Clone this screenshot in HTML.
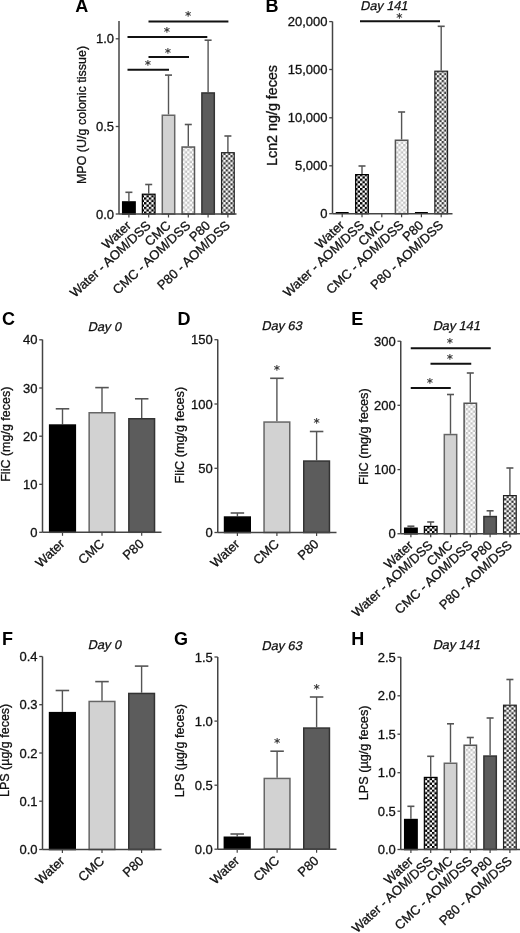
<!DOCTYPE html>
<html><head><meta charset="utf-8"><title>Figure</title>
<style>
html,body{margin:0;padding:0;background:#fff;}
body{width:520px;height:933px;overflow:hidden;}
svg{display:block;}
text{font-family:"Liberation Sans", Arial, Helvetica, sans-serif;fill:#111;}
.tk,.xl,.yl,.tt{stroke:#111;stroke-width:0.3px;}
.tk{font-size:13px;}
.xl{font-size:13px;}
.yl{font-size:12.5px;}
.pl{font-size:18px;font-weight:bold;fill:#000;}
.tt{font-size:12.7px;}
.st{font-family:"DejaVu Sans",sans-serif;font-weight:bold;font-size:12px;fill:#3a3a3a;}
</style></head>
<body>
<svg width="520" height="933" viewBox="0 0 520 933">
<defs>
<pattern id="pd" patternUnits="userSpaceOnUse" width="4.8" height="4.7">
<rect width="4.8" height="4.7" fill="#fff"/>
<rect x="0" y="0" width="2.4" height="2.35" fill="#000"/>
<rect x="2.4" y="2.35" width="2.4" height="2.35" fill="#000"/>
</pattern>
<pattern id="pg" patternUnits="userSpaceOnUse" width="4.8" height="4.7">
<rect width="4.8" height="4.7" fill="#fff"/>
<rect x="0.05" y="0.05" width="2.3" height="2.25" fill="#333"/>
<rect x="2.45" y="2.4" width="2.3" height="2.25" fill="#333"/>
</pattern>
<pattern id="pl" patternUnits="userSpaceOnUse" width="4.8" height="4.8">
<rect width="4.8" height="4.8" fill="#fff"/>
<rect width="2.4" height="2.4" fill="#c4c4c4"/>
<rect x="2.4" y="2.4" width="2.4" height="2.4" fill="#c4c4c4"/>
</pattern>
</defs>
<rect width="520" height="933" fill="#fff"/>
<line x1="128.9" y1="201.2" x2="128.9" y2="192.3" stroke="#555" stroke-width="1.4"/>
<line x1="125.4" y1="192.3" x2="132.4" y2="192.3" stroke="#555" stroke-width="1.6"/>
<rect x="122.7" y="201.95" width="12.4" height="12.050000000000011" fill="#000" stroke="#000" stroke-width="1.5"/>
<line x1="148.7" y1="193.6" x2="148.7" y2="184.5" stroke="#555" stroke-width="1.4"/>
<line x1="145.2" y1="184.5" x2="152.2" y2="184.5" stroke="#555" stroke-width="1.6"/>
<rect x="142.35" y="194.2" width="12.700000000000001" height="19.800000000000004" fill="url(#pd)" stroke="#000" stroke-width="1.2"/>
<line x1="168.5" y1="114.5" x2="168.5" y2="75.1" stroke="#555" stroke-width="1.4"/>
<line x1="165.0" y1="75.1" x2="172.0" y2="75.1" stroke="#555" stroke-width="1.6"/>
<rect x="162.3" y="115.25" width="12.4" height="98.75" fill="#d2d2d2" stroke="#666" stroke-width="1.5"/>
<line x1="188.3" y1="146.3" x2="188.3" y2="124.5" stroke="#555" stroke-width="1.4"/>
<line x1="184.8" y1="124.5" x2="191.8" y2="124.5" stroke="#555" stroke-width="1.6"/>
<rect x="182.10000000000002" y="147.05" width="12.4" height="66.94999999999999" fill="url(#pl)" stroke="#555" stroke-width="1.5"/>
<line x1="208.1" y1="92.2" x2="208.1" y2="40.2" stroke="#555" stroke-width="1.4"/>
<line x1="204.6" y1="40.2" x2="211.6" y2="40.2" stroke="#555" stroke-width="1.6"/>
<rect x="201.9" y="92.95" width="12.4" height="121.05" fill="#5c5c5c" stroke="#333" stroke-width="1.5"/>
<line x1="227.9" y1="152.1" x2="227.9" y2="136.0" stroke="#555" stroke-width="1.4"/>
<line x1="224.4" y1="136.0" x2="231.4" y2="136.0" stroke="#555" stroke-width="1.6"/>
<rect x="221.55" y="152.7" width="12.700000000000001" height="61.300000000000004" fill="url(#pg)" stroke="#222" stroke-width="1.2"/>
<line x1="119" y1="21" x2="119" y2="214" stroke="#444" stroke-width="1.5"/>
<line x1="119" y1="214" x2="236.5" y2="214" stroke="#444" stroke-width="1.5"/>
<line x1="115.7" y1="214" x2="119" y2="214" stroke="#444" stroke-width="1.3"/>
<text x="114" y="218.6" text-anchor="end" class="tk">0.0</text>
<line x1="115.7" y1="126.5" x2="119" y2="126.5" stroke="#444" stroke-width="1.3"/>
<text x="114" y="131.1" text-anchor="end" class="tk">0.5</text>
<line x1="115.7" y1="38.8" x2="119" y2="38.8" stroke="#444" stroke-width="1.3"/>
<text x="114" y="43.4" text-anchor="end" class="tk">1.0</text>
<line x1="128.9" y1="214" x2="128.9" y2="217.5" stroke="#444" stroke-width="1.2"/>
<text transform="translate(131.9,226.5) rotate(-43)" text-anchor="end" class="xl">Water</text>
<line x1="148.7" y1="214" x2="148.7" y2="217.5" stroke="#444" stroke-width="1.2"/>
<text transform="translate(151.7,226.5) rotate(-43)" text-anchor="end" class="xl">Water - AOM/DSS</text>
<line x1="168.5" y1="214" x2="168.5" y2="217.5" stroke="#444" stroke-width="1.2"/>
<text transform="translate(171.5,226.5) rotate(-43)" text-anchor="end" class="xl">CMC</text>
<line x1="188.3" y1="214" x2="188.3" y2="217.5" stroke="#444" stroke-width="1.2"/>
<text transform="translate(191.3,226.5) rotate(-43)" text-anchor="end" class="xl">CMC - AOM/DSS</text>
<line x1="208.1" y1="214" x2="208.1" y2="217.5" stroke="#444" stroke-width="1.2"/>
<text transform="translate(211.1,226.5) rotate(-43)" text-anchor="end" class="xl">P80</text>
<line x1="227.9" y1="214" x2="227.9" y2="217.5" stroke="#444" stroke-width="1.2"/>
<text transform="translate(230.9,226.5) rotate(-43)" text-anchor="end" class="xl">P80 - AOM/DSS</text>
<text transform="translate(86.1,115) rotate(-90)" text-anchor="middle" class="yl" style="font-size:12.5px">MPO (U/g colonic tissue)</text>
<text x="75.3" y="12" class="pl">A</text>
<line x1="148.5" y1="21.4" x2="228.4" y2="21.4" stroke="#111" stroke-width="2"/>
<text x="188.2" y="20" text-anchor="middle" class="st">*</text>
<line x1="127.5" y1="37" x2="207.3" y2="37" stroke="#111" stroke-width="2"/>
<text x="166.9" y="35.6" text-anchor="middle" class="st">*</text>
<line x1="148.5" y1="57.1" x2="189" y2="57.1" stroke="#111" stroke-width="2"/>
<text x="168" y="56.8" text-anchor="middle" class="st">*</text>
<line x1="127.5" y1="69.8" x2="169" y2="69.8" stroke="#111" stroke-width="2"/>
<text x="148" y="68.8" text-anchor="middle" class="st">*</text>
<rect x="335.75" y="212.0" width="12.9" height="1.3" fill="#000"/>
<line x1="362.0" y1="174.0" x2="362.0" y2="166.0" stroke="#555" stroke-width="1.4"/>
<line x1="358.5" y1="166.0" x2="365.5" y2="166.0" stroke="#555" stroke-width="1.6"/>
<rect x="355.65000000000003" y="174.6" width="12.700000000000001" height="39.09999999999999" fill="url(#pd)" stroke="#000" stroke-width="1.2"/>
<line x1="401.6" y1="139.5" x2="401.6" y2="112.0" stroke="#555" stroke-width="1.4"/>
<line x1="398.1" y1="112.0" x2="405.1" y2="112.0" stroke="#555" stroke-width="1.6"/>
<rect x="395.40000000000003" y="140.25" width="12.4" height="73.44999999999999" fill="url(#pl)" stroke="#555" stroke-width="1.5"/>
<rect x="414.95" y="212.0" width="12.9" height="1.3" fill="#000"/>
<line x1="441.2" y1="70.6" x2="441.2" y2="26.3" stroke="#555" stroke-width="1.4"/>
<line x1="437.7" y1="26.3" x2="444.7" y2="26.3" stroke="#555" stroke-width="1.6"/>
<rect x="434.85" y="71.19999999999999" width="12.700000000000001" height="142.5" fill="url(#pg)" stroke="#222" stroke-width="1.2"/>
<line x1="332.5" y1="21.5" x2="332.5" y2="213.7" stroke="#444" stroke-width="1.5"/>
<line x1="332.5" y1="213.7" x2="452.5" y2="213.7" stroke="#444" stroke-width="1.5"/>
<line x1="329.2" y1="213.7" x2="332.5" y2="213.7" stroke="#444" stroke-width="1.3"/>
<text x="327.5" y="218.29999999999998" text-anchor="end" class="tk">0</text>
<line x1="329.2" y1="165.8" x2="332.5" y2="165.8" stroke="#444" stroke-width="1.3"/>
<text x="327.5" y="170.4" text-anchor="end" class="tk">5,000</text>
<line x1="329.2" y1="117.8" x2="332.5" y2="117.8" stroke="#444" stroke-width="1.3"/>
<text x="327.5" y="122.39999999999999" text-anchor="end" class="tk">10,000</text>
<line x1="329.2" y1="69.5" x2="332.5" y2="69.5" stroke="#444" stroke-width="1.3"/>
<text x="327.5" y="74.1" text-anchor="end" class="tk">15,000</text>
<line x1="329.2" y1="21.6" x2="332.5" y2="21.6" stroke="#444" stroke-width="1.3"/>
<text x="327.5" y="26.200000000000003" text-anchor="end" class="tk">20,000</text>
<line x1="342.2" y1="213.7" x2="342.2" y2="217.2" stroke="#444" stroke-width="1.2"/>
<text transform="translate(345.2,226.2) rotate(-43)" text-anchor="end" class="xl">Water</text>
<line x1="362.0" y1="213.7" x2="362.0" y2="217.2" stroke="#444" stroke-width="1.2"/>
<text transform="translate(365.0,226.2) rotate(-43)" text-anchor="end" class="xl">Water - AOM/DSS</text>
<line x1="381.8" y1="213.7" x2="381.8" y2="217.2" stroke="#444" stroke-width="1.2"/>
<text transform="translate(384.8,226.2) rotate(-43)" text-anchor="end" class="xl">CMC</text>
<line x1="401.6" y1="213.7" x2="401.6" y2="217.2" stroke="#444" stroke-width="1.2"/>
<text transform="translate(404.6,226.2) rotate(-43)" text-anchor="end" class="xl">CMC - AOM/DSS</text>
<line x1="421.4" y1="213.7" x2="421.4" y2="217.2" stroke="#444" stroke-width="1.2"/>
<text transform="translate(424.4,226.2) rotate(-43)" text-anchor="end" class="xl">P80</text>
<line x1="441.2" y1="213.7" x2="441.2" y2="217.2" stroke="#444" stroke-width="1.2"/>
<text transform="translate(444.2,226.2) rotate(-43)" text-anchor="end" class="xl">P80 - AOM/DSS</text>
<text transform="translate(276.9,115.5) rotate(-90)" text-anchor="middle" class="yl" style="font-size:14.3px">Lcn2 ng/g feces</text>
<text x="265.5" y="12" class="pl">B</text>
<text transform="translate(360.3,9.5) skewX(-12)" class="tt">Day 141</text>
<line x1="360" y1="21.3" x2="440" y2="21.3" stroke="#111" stroke-width="2"/>
<text x="399.5" y="22" text-anchor="middle" class="st">*</text>
<line x1="62.5" y1="424.3" x2="62.5" y2="408.8" stroke="#555" stroke-width="1.4"/>
<line x1="55.75" y1="408.8" x2="69.25" y2="408.8" stroke="#555" stroke-width="1.6"/>
<rect x="49.65" y="425.05" width="25.7" height="107.24999999999994" fill="#000" stroke="#000" stroke-width="1.5"/>
<line x1="102.0" y1="412.0" x2="102.0" y2="387.6" stroke="#555" stroke-width="1.4"/>
<line x1="95.25" y1="387.6" x2="108.75" y2="387.6" stroke="#555" stroke-width="1.6"/>
<rect x="89.15" y="412.75" width="25.7" height="119.54999999999995" fill="#d2d2d2" stroke="#666" stroke-width="1.5"/>
<line x1="141.7" y1="418.0" x2="141.7" y2="398.8" stroke="#555" stroke-width="1.4"/>
<line x1="134.95" y1="398.8" x2="148.45" y2="398.8" stroke="#555" stroke-width="1.6"/>
<rect x="128.85" y="418.75" width="25.7" height="113.54999999999995" fill="#5c5c5c" stroke="#333" stroke-width="1.5"/>
<line x1="42.5" y1="339.6" x2="42.5" y2="532.3" stroke="#444" stroke-width="1.5"/>
<line x1="42.5" y1="532.3" x2="161.5" y2="532.3" stroke="#444" stroke-width="1.5"/>
<line x1="39.2" y1="532.3" x2="42.5" y2="532.3" stroke="#444" stroke-width="1.3"/>
<text x="37.5" y="536.9" text-anchor="end" class="tk">0</text>
<line x1="39.2" y1="484.3" x2="42.5" y2="484.3" stroke="#444" stroke-width="1.3"/>
<text x="37.5" y="488.90000000000003" text-anchor="end" class="tk">10</text>
<line x1="39.2" y1="436.2" x2="42.5" y2="436.2" stroke="#444" stroke-width="1.3"/>
<text x="37.5" y="440.8" text-anchor="end" class="tk">20</text>
<line x1="39.2" y1="388.0" x2="42.5" y2="388.0" stroke="#444" stroke-width="1.3"/>
<text x="37.5" y="392.6" text-anchor="end" class="tk">30</text>
<line x1="39.2" y1="339.8" x2="42.5" y2="339.8" stroke="#444" stroke-width="1.3"/>
<text x="37.5" y="344.40000000000003" text-anchor="end" class="tk">40</text>
<line x1="62.5" y1="532.3" x2="62.5" y2="535.8" stroke="#444" stroke-width="1.2"/>
<text transform="translate(65.5,544.8) rotate(-43)" text-anchor="end" class="xl">Water</text>
<line x1="102.0" y1="532.3" x2="102.0" y2="535.8" stroke="#444" stroke-width="1.2"/>
<text transform="translate(105.0,544.8) rotate(-43)" text-anchor="end" class="xl">CMC</text>
<line x1="141.7" y1="532.3" x2="141.7" y2="535.8" stroke="#444" stroke-width="1.2"/>
<text transform="translate(144.7,544.8) rotate(-43)" text-anchor="end" class="xl">P80</text>
<text transform="translate(10.1,434.2) rotate(-90)" text-anchor="middle" class="yl" style="font-size:12.5px">FliC (mg/g feces)</text>
<text x="2.1" y="325" class="pl">C</text>
<text transform="translate(87.8,330.5) skewX(-12)" class="tt">Day 0</text>
<line x1="237.4" y1="516.3" x2="237.4" y2="513.0" stroke="#555" stroke-width="1.4"/>
<line x1="230.65" y1="513.0" x2="244.15" y2="513.0" stroke="#555" stroke-width="1.6"/>
<rect x="224.55" y="517.05" width="25.7" height="15.450000000000045" fill="#000" stroke="#000" stroke-width="1.5"/>
<line x1="276.9" y1="421.3" x2="276.9" y2="378.3" stroke="#555" stroke-width="1.4"/>
<line x1="270.15" y1="378.3" x2="283.65" y2="378.3" stroke="#555" stroke-width="1.6"/>
<rect x="264.04999999999995" y="422.05" width="25.7" height="110.44999999999999" fill="#d2d2d2" stroke="#666" stroke-width="1.5"/>
<line x1="316.6" y1="460.3" x2="316.6" y2="431.5" stroke="#555" stroke-width="1.4"/>
<line x1="309.85" y1="431.5" x2="323.35" y2="431.5" stroke="#555" stroke-width="1.6"/>
<rect x="303.75" y="461.05" width="25.7" height="71.44999999999999" fill="#5c5c5c" stroke="#333" stroke-width="1.5"/>
<line x1="217.75" y1="339.5" x2="217.75" y2="532.5" stroke="#444" stroke-width="1.5"/>
<line x1="217.75" y1="532.5" x2="336.5" y2="532.5" stroke="#444" stroke-width="1.5"/>
<line x1="214.45" y1="532.5" x2="217.75" y2="532.5" stroke="#444" stroke-width="1.3"/>
<text x="212.75" y="537.1" text-anchor="end" class="tk">0</text>
<line x1="214.45" y1="468.3" x2="217.75" y2="468.3" stroke="#444" stroke-width="1.3"/>
<text x="212.75" y="472.90000000000003" text-anchor="end" class="tk">50</text>
<line x1="214.45" y1="404.0" x2="217.75" y2="404.0" stroke="#444" stroke-width="1.3"/>
<text x="212.75" y="408.6" text-anchor="end" class="tk">100</text>
<line x1="214.45" y1="339.7" x2="217.75" y2="339.7" stroke="#444" stroke-width="1.3"/>
<text x="212.75" y="344.3" text-anchor="end" class="tk">150</text>
<line x1="237.4" y1="532.5" x2="237.4" y2="536.0" stroke="#444" stroke-width="1.2"/>
<text transform="translate(240.4,545.0) rotate(-43)" text-anchor="end" class="xl">Water</text>
<line x1="276.9" y1="532.5" x2="276.9" y2="536.0" stroke="#444" stroke-width="1.2"/>
<text transform="translate(279.9,545.0) rotate(-43)" text-anchor="end" class="xl">CMC</text>
<line x1="316.6" y1="532.5" x2="316.6" y2="536.0" stroke="#444" stroke-width="1.2"/>
<text transform="translate(319.6,545.0) rotate(-43)" text-anchor="end" class="xl">P80</text>
<text transform="translate(184.0,435.1) rotate(-90)" text-anchor="middle" class="yl" style="font-size:12.7px">FliC (mg/g feces)</text>
<text x="177.5" y="324.9" class="pl">D</text>
<text transform="translate(261.5,330) skewX(-12)" class="tt">Day 63</text>
<text x="276.9" y="374" text-anchor="middle" class="st">*</text>
<text x="316.6" y="427.3" text-anchor="middle" class="st">*</text>
<line x1="410.9" y1="527.5" x2="410.9" y2="526.2" stroke="#555" stroke-width="1.4"/>
<line x1="407.4" y1="526.2" x2="414.4" y2="526.2" stroke="#555" stroke-width="1.6"/>
<rect x="404.7" y="528.25" width="12.4" height="5.5" fill="#000" stroke="#000" stroke-width="1.5"/>
<line x1="430.7" y1="525.8" x2="430.7" y2="522.0" stroke="#555" stroke-width="1.4"/>
<line x1="427.2" y1="522.0" x2="434.2" y2="522.0" stroke="#555" stroke-width="1.6"/>
<rect x="424.35" y="526.4" width="12.700000000000001" height="7.350000000000046" fill="url(#pd)" stroke="#000" stroke-width="1.2"/>
<line x1="450.5" y1="433.8" x2="450.5" y2="394.5" stroke="#555" stroke-width="1.4"/>
<line x1="447.0" y1="394.5" x2="454.0" y2="394.5" stroke="#555" stroke-width="1.6"/>
<rect x="444.3" y="434.55" width="12.4" height="99.19999999999999" fill="#d2d2d2" stroke="#666" stroke-width="1.5"/>
<line x1="470.3" y1="402.5" x2="470.3" y2="373.0" stroke="#555" stroke-width="1.4"/>
<line x1="466.8" y1="373.0" x2="473.8" y2="373.0" stroke="#555" stroke-width="1.6"/>
<rect x="464.1" y="403.25" width="12.4" height="130.5" fill="url(#pl)" stroke="#555" stroke-width="1.5"/>
<line x1="490.1" y1="515.8" x2="490.1" y2="510.8" stroke="#555" stroke-width="1.4"/>
<line x1="486.6" y1="510.8" x2="493.6" y2="510.8" stroke="#555" stroke-width="1.6"/>
<rect x="483.90000000000003" y="516.55" width="12.4" height="17.200000000000045" fill="#5c5c5c" stroke="#333" stroke-width="1.5"/>
<line x1="509.9" y1="495.0" x2="509.9" y2="468.0" stroke="#555" stroke-width="1.4"/>
<line x1="506.4" y1="468.0" x2="513.4" y2="468.0" stroke="#555" stroke-width="1.6"/>
<rect x="503.55" y="495.6" width="12.700000000000001" height="38.15" fill="url(#pg)" stroke="#222" stroke-width="1.2"/>
<line x1="400.75" y1="341" x2="400.75" y2="533.75" stroke="#444" stroke-width="1.5"/>
<line x1="400.75" y1="533.75" x2="521" y2="533.75" stroke="#444" stroke-width="1.5"/>
<line x1="397.45" y1="533.75" x2="400.75" y2="533.75" stroke="#444" stroke-width="1.3"/>
<text x="395.75" y="538.35" text-anchor="end" class="tk">0</text>
<line x1="397.45" y1="469.6" x2="400.75" y2="469.6" stroke="#444" stroke-width="1.3"/>
<text x="395.75" y="474.20000000000005" text-anchor="end" class="tk">100</text>
<line x1="397.45" y1="405.3" x2="400.75" y2="405.3" stroke="#444" stroke-width="1.3"/>
<text x="395.75" y="409.90000000000003" text-anchor="end" class="tk">200</text>
<line x1="397.45" y1="341.2" x2="400.75" y2="341.2" stroke="#444" stroke-width="1.3"/>
<text x="395.75" y="345.8" text-anchor="end" class="tk">300</text>
<line x1="410.9" y1="533.75" x2="410.9" y2="537.25" stroke="#444" stroke-width="1.2"/>
<text transform="translate(413.9,546.25) rotate(-43)" text-anchor="end" class="xl">Water</text>
<line x1="430.7" y1="533.75" x2="430.7" y2="537.25" stroke="#444" stroke-width="1.2"/>
<text transform="translate(433.7,546.25) rotate(-43)" text-anchor="end" class="xl">Water - AOM/DSS</text>
<line x1="450.5" y1="533.75" x2="450.5" y2="537.25" stroke="#444" stroke-width="1.2"/>
<text transform="translate(453.5,546.25) rotate(-43)" text-anchor="end" class="xl">CMC</text>
<line x1="470.3" y1="533.75" x2="470.3" y2="537.25" stroke="#444" stroke-width="1.2"/>
<text transform="translate(473.3,546.25) rotate(-43)" text-anchor="end" class="xl">CMC - AOM/DSS</text>
<line x1="490.1" y1="533.75" x2="490.1" y2="537.25" stroke="#444" stroke-width="1.2"/>
<text transform="translate(493.1,546.25) rotate(-43)" text-anchor="end" class="xl">P80</text>
<line x1="509.9" y1="533.75" x2="509.9" y2="537.25" stroke="#444" stroke-width="1.2"/>
<text transform="translate(512.9,546.25) rotate(-43)" text-anchor="end" class="xl">P80 - AOM/DSS</text>
<text transform="translate(367.6,436.6) rotate(-90)" text-anchor="middle" class="yl" style="font-size:12.7px">FliC (mg/g feces)</text>
<text x="351.2" y="324.7" class="pl">E</text>
<text transform="translate(432.7,330.3) skewX(-12)" class="tt">Day 141</text>
<line x1="410.75" y1="348.3" x2="490.75" y2="348.3" stroke="#111" stroke-width="2"/>
<text x="450" y="347.3" text-anchor="middle" class="st">*</text>
<line x1="430.5" y1="363.8" x2="471.25" y2="363.8" stroke="#111" stroke-width="2"/>
<text x="450" y="363" text-anchor="middle" class="st">*</text>
<line x1="410.75" y1="388" x2="450.75" y2="388" stroke="#111" stroke-width="2"/>
<text x="430" y="387.3" text-anchor="middle" class="st">*</text>
<line x1="62.4" y1="711.9" x2="62.4" y2="690.5" stroke="#555" stroke-width="1.4"/>
<line x1="55.65" y1="690.5" x2="69.15" y2="690.5" stroke="#555" stroke-width="1.6"/>
<rect x="49.55" y="712.65" width="25.7" height="136.85000000000002" fill="#000" stroke="#000" stroke-width="1.5"/>
<line x1="102.0" y1="700.7" x2="102.0" y2="681.6" stroke="#555" stroke-width="1.4"/>
<line x1="95.25" y1="681.6" x2="108.75" y2="681.6" stroke="#555" stroke-width="1.6"/>
<rect x="89.15" y="701.45" width="25.7" height="148.04999999999995" fill="#d2d2d2" stroke="#666" stroke-width="1.5"/>
<line x1="141.6" y1="692.7" x2="141.6" y2="666.1" stroke="#555" stroke-width="1.4"/>
<line x1="134.85" y1="666.1" x2="148.35" y2="666.1" stroke="#555" stroke-width="1.6"/>
<rect x="128.75" y="693.45" width="25.7" height="156.04999999999995" fill="#5c5c5c" stroke="#333" stroke-width="1.5"/>
<line x1="42.5" y1="656.5" x2="42.5" y2="849.5" stroke="#444" stroke-width="1.5"/>
<line x1="42.5" y1="849.5" x2="161.5" y2="849.5" stroke="#444" stroke-width="1.5"/>
<line x1="39.2" y1="849.5" x2="42.5" y2="849.5" stroke="#444" stroke-width="1.3"/>
<text x="37.5" y="854.1" text-anchor="end" class="tk">0.0</text>
<line x1="39.2" y1="801.2" x2="42.5" y2="801.2" stroke="#444" stroke-width="1.3"/>
<text x="37.5" y="805.8000000000001" text-anchor="end" class="tk">0.1</text>
<line x1="39.2" y1="753.0" x2="42.5" y2="753.0" stroke="#444" stroke-width="1.3"/>
<text x="37.5" y="757.6" text-anchor="end" class="tk">0.2</text>
<line x1="39.2" y1="704.7" x2="42.5" y2="704.7" stroke="#444" stroke-width="1.3"/>
<text x="37.5" y="709.3000000000001" text-anchor="end" class="tk">0.3</text>
<line x1="39.2" y1="656.5" x2="42.5" y2="656.5" stroke="#444" stroke-width="1.3"/>
<text x="37.5" y="661.1" text-anchor="end" class="tk">0.4</text>
<line x1="62.4" y1="849.5" x2="62.4" y2="853.0" stroke="#444" stroke-width="1.2"/>
<text transform="translate(65.4,862.0) rotate(-43)" text-anchor="end" class="xl">Water</text>
<line x1="102.0" y1="849.5" x2="102.0" y2="853.0" stroke="#444" stroke-width="1.2"/>
<text transform="translate(105.0,862.0) rotate(-43)" text-anchor="end" class="xl">CMC</text>
<line x1="141.6" y1="849.5" x2="141.6" y2="853.0" stroke="#444" stroke-width="1.2"/>
<text transform="translate(144.6,862.0) rotate(-43)" text-anchor="end" class="xl">P80</text>
<text transform="translate(9.2,750.4) rotate(-90)" text-anchor="middle" class="yl" style="font-size:12.5px">LPS (µg/g feces)</text>
<text x="1.9" y="645.2" class="pl">F</text>
<text transform="translate(87.8,649) skewX(-12)" class="tt">Day 0</text>
<line x1="237.2" y1="836.5" x2="237.2" y2="834.0" stroke="#555" stroke-width="1.4"/>
<line x1="230.45" y1="834.0" x2="243.95" y2="834.0" stroke="#555" stroke-width="1.6"/>
<rect x="224.35" y="837.25" width="25.7" height="11.950000000000045" fill="#000" stroke="#000" stroke-width="1.5"/>
<line x1="277.1" y1="777.7" x2="277.1" y2="751.2" stroke="#555" stroke-width="1.4"/>
<line x1="270.35" y1="751.2" x2="283.85" y2="751.2" stroke="#555" stroke-width="1.6"/>
<rect x="264.25" y="778.45" width="25.7" height="70.75" fill="#d2d2d2" stroke="#666" stroke-width="1.5"/>
<line x1="316.6" y1="727.3" x2="316.6" y2="697.0" stroke="#555" stroke-width="1.4"/>
<line x1="309.85" y1="697.0" x2="323.35" y2="697.0" stroke="#555" stroke-width="1.6"/>
<rect x="303.75" y="728.05" width="25.7" height="121.15000000000009" fill="#5c5c5c" stroke="#333" stroke-width="1.5"/>
<line x1="217.75" y1="657" x2="217.75" y2="849.2" stroke="#444" stroke-width="1.5"/>
<line x1="217.75" y1="849.2" x2="336.5" y2="849.2" stroke="#444" stroke-width="1.5"/>
<line x1="214.45" y1="849.2" x2="217.75" y2="849.2" stroke="#444" stroke-width="1.3"/>
<text x="212.75" y="853.8000000000001" text-anchor="end" class="tk">0.0</text>
<line x1="214.45" y1="785.2" x2="217.75" y2="785.2" stroke="#444" stroke-width="1.3"/>
<text x="212.75" y="789.8000000000001" text-anchor="end" class="tk">0.5</text>
<line x1="214.45" y1="721.1" x2="217.75" y2="721.1" stroke="#444" stroke-width="1.3"/>
<text x="212.75" y="725.7" text-anchor="end" class="tk">1.0</text>
<line x1="214.45" y1="657.0" x2="217.75" y2="657.0" stroke="#444" stroke-width="1.3"/>
<text x="212.75" y="661.6" text-anchor="end" class="tk">1.5</text>
<line x1="237.2" y1="849.2" x2="237.2" y2="852.7" stroke="#444" stroke-width="1.2"/>
<text transform="translate(240.2,861.7) rotate(-43)" text-anchor="end" class="xl">Water</text>
<line x1="277.1" y1="849.2" x2="277.1" y2="852.7" stroke="#444" stroke-width="1.2"/>
<text transform="translate(280.1,861.7) rotate(-43)" text-anchor="end" class="xl">CMC</text>
<line x1="316.6" y1="849.2" x2="316.6" y2="852.7" stroke="#444" stroke-width="1.2"/>
<text transform="translate(319.6,861.7) rotate(-43)" text-anchor="end" class="xl">P80</text>
<text transform="translate(184.3,750.7) rotate(-90)" text-anchor="middle" class="yl" style="font-size:12.5px">LPS (µg/g feces)</text>
<text x="173.9" y="645" class="pl">G</text>
<text transform="translate(261.5,649.5) skewX(-12)" class="tt">Day 63</text>
<text x="277.1" y="747" text-anchor="middle" class="st">*</text>
<text x="316.6" y="692.8" text-anchor="middle" class="st">*</text>
<line x1="410.9" y1="818.8" x2="410.9" y2="806.3" stroke="#555" stroke-width="1.4"/>
<line x1="407.4" y1="806.3" x2="414.4" y2="806.3" stroke="#555" stroke-width="1.6"/>
<rect x="404.7" y="819.55" width="12.4" height="29.950000000000045" fill="#000" stroke="#000" stroke-width="1.5"/>
<line x1="430.7" y1="776.8" x2="430.7" y2="756.3" stroke="#555" stroke-width="1.4"/>
<line x1="427.2" y1="756.3" x2="434.2" y2="756.3" stroke="#555" stroke-width="1.6"/>
<rect x="424.35" y="777.4" width="12.700000000000001" height="72.10000000000005" fill="url(#pd)" stroke="#000" stroke-width="1.2"/>
<line x1="450.5" y1="762.5" x2="450.5" y2="723.8" stroke="#555" stroke-width="1.4"/>
<line x1="447.0" y1="723.8" x2="454.0" y2="723.8" stroke="#555" stroke-width="1.6"/>
<rect x="444.3" y="763.25" width="12.4" height="86.25" fill="#d2d2d2" stroke="#666" stroke-width="1.5"/>
<line x1="470.3" y1="744.5" x2="470.3" y2="737.5" stroke="#555" stroke-width="1.4"/>
<line x1="466.8" y1="737.5" x2="473.8" y2="737.5" stroke="#555" stroke-width="1.6"/>
<rect x="464.1" y="745.25" width="12.4" height="104.25" fill="url(#pl)" stroke="#555" stroke-width="1.5"/>
<line x1="490.1" y1="755.3" x2="490.1" y2="718.0" stroke="#555" stroke-width="1.4"/>
<line x1="486.6" y1="718.0" x2="493.6" y2="718.0" stroke="#555" stroke-width="1.6"/>
<rect x="483.90000000000003" y="756.05" width="12.4" height="93.45000000000005" fill="#5c5c5c" stroke="#333" stroke-width="1.5"/>
<line x1="509.9" y1="704.6" x2="509.9" y2="679.5" stroke="#555" stroke-width="1.4"/>
<line x1="506.4" y1="679.5" x2="513.4" y2="679.5" stroke="#555" stroke-width="1.6"/>
<rect x="503.55" y="705.2" width="12.700000000000001" height="144.29999999999998" fill="url(#pg)" stroke="#222" stroke-width="1.2"/>
<line x1="400.75" y1="657" x2="400.75" y2="849.5" stroke="#444" stroke-width="1.5"/>
<line x1="400.75" y1="849.5" x2="521" y2="849.5" stroke="#444" stroke-width="1.5"/>
<line x1="397.45" y1="849.5" x2="400.75" y2="849.5" stroke="#444" stroke-width="1.3"/>
<text x="395.75" y="854.1" text-anchor="end" class="tk">0.0</text>
<line x1="397.45" y1="811.2" x2="400.75" y2="811.2" stroke="#444" stroke-width="1.3"/>
<text x="395.75" y="815.8000000000001" text-anchor="end" class="tk">0.5</text>
<line x1="397.45" y1="772.7" x2="400.75" y2="772.7" stroke="#444" stroke-width="1.3"/>
<text x="395.75" y="777.3000000000001" text-anchor="end" class="tk">1.0</text>
<line x1="397.45" y1="734.2" x2="400.75" y2="734.2" stroke="#444" stroke-width="1.3"/>
<text x="395.75" y="738.8000000000001" text-anchor="end" class="tk">1.5</text>
<line x1="397.45" y1="695.8" x2="400.75" y2="695.8" stroke="#444" stroke-width="1.3"/>
<text x="395.75" y="700.4" text-anchor="end" class="tk">2.0</text>
<line x1="397.45" y1="657.2" x2="400.75" y2="657.2" stroke="#444" stroke-width="1.3"/>
<text x="395.75" y="661.8000000000001" text-anchor="end" class="tk">2.5</text>
<line x1="410.9" y1="849.5" x2="410.9" y2="853.0" stroke="#444" stroke-width="1.2"/>
<text transform="translate(413.9,862.0) rotate(-43)" text-anchor="end" class="xl">Water</text>
<line x1="430.7" y1="849.5" x2="430.7" y2="853.0" stroke="#444" stroke-width="1.2"/>
<text transform="translate(433.7,862.0) rotate(-43)" text-anchor="end" class="xl">Water - AOM/DSS</text>
<line x1="450.5" y1="849.5" x2="450.5" y2="853.0" stroke="#444" stroke-width="1.2"/>
<text transform="translate(453.5,862.0) rotate(-43)" text-anchor="end" class="xl">CMC</text>
<line x1="470.3" y1="849.5" x2="470.3" y2="853.0" stroke="#444" stroke-width="1.2"/>
<text transform="translate(473.3,862.0) rotate(-43)" text-anchor="end" class="xl">CMC - AOM/DSS</text>
<line x1="490.1" y1="849.5" x2="490.1" y2="853.0" stroke="#444" stroke-width="1.2"/>
<text transform="translate(493.1,862.0) rotate(-43)" text-anchor="end" class="xl">P80</text>
<line x1="509.9" y1="849.5" x2="509.9" y2="853.0" stroke="#444" stroke-width="1.2"/>
<text transform="translate(512.9,862.0) rotate(-43)" text-anchor="end" class="xl">P80 - AOM/DSS</text>
<text transform="translate(367.8,752.9) rotate(-90)" text-anchor="middle" class="yl" style="font-size:12.7px">LPS (µg/g feces)</text>
<text x="351.3" y="645" class="pl">H</text>
<text transform="translate(432.7,648.5) skewX(-12)" class="tt">Day 141</text>
</svg>
</body></html>
